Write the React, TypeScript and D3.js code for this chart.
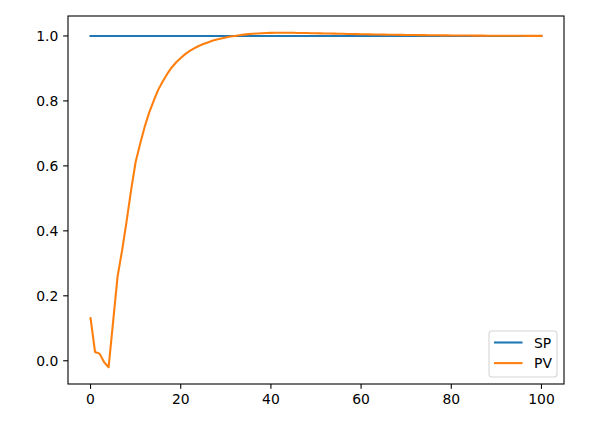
import { useMemo } from "react";
import * as d3 from "d3";

const WIDTH = 601;
const HEIGHT = 421;
const MARGIN = { top: 16, right: 37, bottom: 37, left: 68 };

// time steps 0..100
const time = d3.range(0, 101);

// set point
const spValues = time.map(() => 1.0);

// process variable
const pvValues = [
  0.131, 0.027, 0.022, -0.004, -0.02, 0.12, 0.26, 0.34, 0.43, 0.526,
  0.612, 0.668, 0.72, 0.764, 0.8, 0.834, 0.86, 0.883, 0.903, 0.919,
  0.932, 0.944, 0.954, 0.962, 0.969, 0.975, 0.98, 0.985, 0.989, 0.992,
  0.995, 0.998, 1.0, 1.002, 1.004, 1.0055, 1.0067, 1.0077, 1.0084, 1.009,
  1.0094, 1.0097, 1.0099, 1.0099, 1.0098, 1.0096, 1.0093, 1.009, 1.0088, 1.0085,
  1.0082, 1.008, 1.0077, 1.0074, 1.0071, 1.0068, 1.0065, 1.0062, 1.006, 1.0057,
  1.0054, 1.0051, 1.0049, 1.0046, 1.0044, 1.0041, 1.0039, 1.0037, 1.0035, 1.0033,
  1.0031, 1.0029, 1.0027, 1.0025, 1.0024, 1.0022, 1.0021, 1.0019, 1.0018, 1.0017,
  1.0016, 1.0015, 1.0014, 1.0013, 1.0012, 1.0011, 1.001, 1.0009, 1.0008, 1.0008,
  1.0007, 1.0006, 1.0006, 1.0005, 1.0005, 1.0004, 1.0004, 1.0003, 1.0003, 1.0002,
  1.0002,
];

const xTicks = [0, 20, 40, 60, 80, 100];
const yTicks = [0.0, 0.2, 0.4, 0.6, 0.8, 1.0];

const series = [
  { name: "SP", values: spValues, color: "#1f77b4" },
  { name: "PV", values: pvValues, color: "#ff7f0e" },
];

const FONT = "DejaVu Sans, sans-serif";
const FONT_SIZE = 13.9;
const TICK = 4.86;

export default function App() {
  const boundsWidth = WIDTH - MARGIN.left - MARGIN.right;
  const boundsHeight = HEIGHT - MARGIN.top - MARGIN.bottom;

  // matplotlib-style 5% margins around the data
  const xScale = useMemo(() => {
    const [lo, hi] = d3.extent(time) as [number, number];
    const pad = (hi - lo) * 0.05;
    return d3.scaleLinear().domain([lo - pad, hi + pad]).range([0, boundsWidth]);
  }, [boundsWidth]);

  const yScale = useMemo(() => {
    const all = [...spValues, ...pvValues];
    const [lo, hi] = d3.extent(all) as [number, number];
    const pad = (hi - lo) * 0.05;
    return d3.scaleLinear().domain([lo - pad, hi + pad]).range([boundsHeight, 0]);
  }, [boundsHeight]);

  const line = d3
    .line<number>()
    .x((_, i) => xScale(time[i]))
    .y((d) => yScale(d));

  // legend box, lower right
  const legW = 68;
  const legH = 46;
  const legX = boundsWidth - 7 - legW;
  const legY = boundsHeight - 7 - legH;

  return (
    <div style={{ position: "absolute", left: 0, top: 0 }}>
      <svg width={WIDTH} height={HEIGHT} style={{ display: "block", background: "#fff" }}>
        <g transform={`translate(${MARGIN.left},${MARGIN.top})`}>
          {series.map((s) => (
            <path
              key={s.name}
              d={line(s.values) ?? ""}
              fill="none"
              stroke={s.color}
              strokeWidth={2.08}
              strokeLinejoin="round"
              strokeLinecap="square"
            />
          ))}

          {/* frame */}
          <rect
            x={0}
            y={0}
            width={boundsWidth}
            height={boundsHeight}
            fill="none"
            stroke="#000"
            strokeWidth={1.1}
          />

          {/* x axis */}
          {xTicks.map((t) => (
            <g key={t} transform={`translate(${xScale(t)},${boundsHeight})`}>
              <line y2={TICK} stroke="#000" strokeWidth={1.1} />
              <text
                y={TICK + 4.86 + FONT_SIZE * 0.76}
                textAnchor="middle"
                fontFamily={FONT}
                fontSize={FONT_SIZE}
                fill="#000"
              >
                {t}
              </text>
            </g>
          ))}

          {/* y axis */}
          {yTicks.map((t) => (
            <g key={t} transform={`translate(0,${yScale(t)})`}>
              <line x2={-TICK} stroke="#000" strokeWidth={1.1} />
              <text
                x={-TICK - 4.86}
                dy="0.36em"
                textAnchor="end"
                fontFamily={FONT}
                fontSize={FONT_SIZE}
                fill="#000"
              >
                {t.toFixed(1)}
              </text>
            </g>
          ))}

          {/* legend */}
          <g transform={`translate(${legX},${legY})`}>
            <rect
              width={legW}
              height={legH}
              rx={3}
              fill="#fff"
              fillOpacity={0.8}
              stroke="#d6d6d6"
              strokeWidth={1.1}
            />
            {series.map((s, i) => (
              <g key={s.name} transform={`translate(0,${11.5 + i * 20.6})`}>
                <line x1={5} x2={33.5} stroke={s.color} strokeWidth={2.08} />
                <text
                  x={45}
                  dy="0.36em"
                  fontFamily={FONT}
                  fontSize={FONT_SIZE}
                  fill="#000"
                >
                  {s.name}
                </text>
              </g>
            ))}
          </g>
        </g>
      </svg>
    </div>
  );
}
